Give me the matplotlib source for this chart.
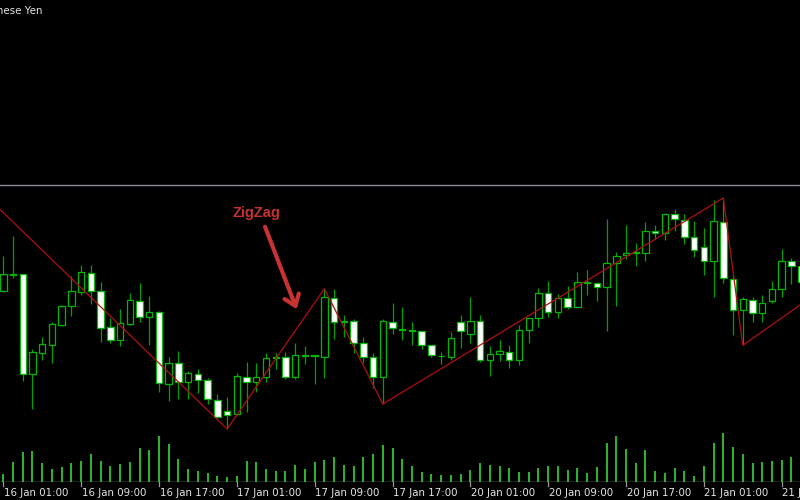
import matplotlib
matplotlib.use("Agg")
import matplotlib.pyplot as plt
from matplotlib.patches import Rectangle
from matplotlib.transforms import blended_transform_factory

# ---- data (USDJPY H1) ----
opens = [104.087, 104.263, 104.263, 103.263, 103.473, 103.553, 103.747, 103.940, 104.077, 104.273,
         104.090, 103.730, 103.597, 103.763, 103.987, 103.833, 103.880, 103.157, 103.367, 103.180,
         103.263, 103.197, 103.000, 102.893, 102.857, 103.233, 103.177, 103.230, 103.427, 103.427,
         103.233, 103.447, 103.447, 103.433, 104.023, 103.787, 103.790, 103.570, 103.427, 103.227,
         103.783, 103.710, 103.700, 103.687, 103.553, 103.445, 103.430, 103.783, 103.663, 103.790,
         103.400, 103.457, 103.483, 103.400, 103.697, 103.817, 104.067, 103.880, 104.023, 103.933,
         104.177, 104.167, 104.127, 104.367, 104.447, 104.477, 104.473, 104.693, 104.673, 104.857,
         104.800, 104.630, 104.530, 104.387, 104.783, 104.213, 103.897, 104.003, 103.867, 103.993,
         104.107, 104.387, 104.337]
highs = [104.440, 104.640, 104.265, 103.513, 103.633, 103.783, 103.950, 104.240, 104.347, 104.347,
         104.180, 103.823, 103.913, 104.067, 104.170, 104.040, 103.890, 103.433, 103.493, 103.293,
         103.310, 103.220, 103.060, 103.030, 103.273, 103.380, 103.373, 103.473, 103.473, 103.483,
         103.567, 103.543, 103.450, 104.113, 104.107, 103.850, 103.807, 103.630, 103.473, 103.810,
         103.970, 103.930, 103.777, 103.690, 103.555, 103.480, 103.680, 103.850, 104.030, 103.853,
         103.543, 103.600, 103.550, 103.747, 103.820, 104.117, 104.187, 104.057, 104.140, 104.280,
         104.300, 104.170, 104.813, 104.483, 104.753, 104.573, 104.780, 104.747, 104.867, 104.907,
         104.860, 104.793, 104.720, 105.000, 105.020, 104.260, 104.027, 104.027, 104.047, 104.190,
         104.507, 104.423, 104.380]
lows = [104.080, 104.220, 103.190, 102.907, 103.400, 103.373, 103.740, 103.843, 104.050, 103.963,
        103.583, 103.573, 103.543, 103.750, 103.780, 103.550, 103.080, 102.990, 103.007, 103.013,
        103.067, 102.960, 102.817, 102.710, 102.850, 102.880, 103.083, 103.183, 103.307, 103.207,
        103.213, 103.360, 103.157, 103.217, 103.607, 103.627, 103.467, 103.367, 103.117, 102.960,
        103.660, 103.600, 103.553, 103.513, 103.427, 103.363, 103.400, 103.520, 103.573, 103.383,
        103.243, 103.387, 103.317, 103.353, 103.573, 103.733, 103.833, 103.820, 103.907, 103.930,
        104.053, 103.993, 103.693, 103.943, 104.413, 104.343, 104.393, 104.610, 104.600, 104.693,
        104.557, 104.433, 104.253, 104.033, 104.173, 103.650, 103.547, 103.780, 103.783, 103.973,
        104.033, 104.157, 104.100]
closes = [104.257, 104.255, 103.263, 103.477, 103.560, 103.757, 103.943, 104.087, 104.277, 104.090,
          103.723, 103.597, 103.767, 103.997, 103.827, 103.883, 103.167, 103.370, 103.183, 103.267,
          103.197, 103.013, 102.833, 102.847, 103.237, 103.177, 103.233, 103.420, 103.422, 103.233,
          103.450, 103.443, 103.437, 104.030, 103.783, 103.783, 103.573, 103.427, 103.227, 103.787,
          103.717, 103.705, 103.693, 103.553, 103.447, 103.440, 103.623, 103.690, 103.790, 103.397,
          103.457, 103.487, 103.400, 103.700, 103.817, 104.067, 103.880, 104.023, 103.933, 104.177,
          104.172, 104.127, 104.367, 104.440, 104.473, 104.472, 104.690, 104.670, 104.857, 104.807,
          104.630, 104.497, 104.393, 104.787, 104.217, 103.897, 104.007, 103.867, 103.973, 104.107,
          104.387, 104.337, 104.177]
volumes = [385, 1015, 1500, 1535, 950, 650, 750, 950, 1035, 1400,
           1035, 815, 900, 1000, 1700, 1615, 2300, 1900, 1165, 650,
           535, 465, 300, 265, 300, 1050, 1000, 650, 565, 565,
           850, 650, 1000, 1085, 1250, 850, 785, 1250, 1400, 1850,
           1700, 1135, 785, 500, 400, 350, 350, 400, 615, 950,
           865, 800, 715, 500, 500, 715, 785, 800, 615, 685,
           465, 750, 1965, 2300, 1635, 935, 1585, 550, 465, 715,
           565, 300, 785, 1965, 2435, 1750, 1400, 935, 1000, 1050,
           1085, 1235, 1100]

zz_bars = [-4, 23, 33, 39, 74, 76, 90]
zz_prices = [105.250, 102.710, 104.113, 102.960, 105.020, 103.547, 104.507]

tick_bars = [0, 8, 16, 24, 32, 40, 48, 56, 64, 72, 80]
tick_labels = ["16 Jan 01:00", "16 Jan 09:00", "16 Jan 17:00", "17 Jan 01:00",
               "17 Jan 09:00", "17 Jan 17:00", "20 Jan 01:00", "20 Jan 09:00",
               "20 Jan 17:00", "21 Jan 01:00", "21 Jan 09:00"]

# ---- figure ----
W, H = 800, 500
fig = plt.figure(figsize=(8, 5), dpi=100, facecolor="black")

ax = fig.add_axes([0, 0, 1, 1])
ax.set_facecolor("black")
ax.axis("off")
ax.set_xlim(-0.339, 81.88)
ax.set_ylim(102.0, 107.0)

axv = fig.add_axes([0, 18 / H, 1, 50 / H])
axv.patch.set_alpha(0)
axv.axis("off")
axv.set_xlim(-0.339, 81.88)
axv.set_ylim(0, 2500)

n = len(opens)
idx = list(range(n))
wick_col = "#00a000"
edge_col = "#00b800"

ax.vlines(idx, lows, highs, colors=wick_col, lw=0.9, zorder=2)
bw = 0.66
for i in idx:
    o, c = opens[i], closes[i]
    bottom = min(o, c)
    h = max(abs(c - o), 0.004)
    face = "white" if c < o else "black"
    ax.add_patch(Rectangle((i - bw / 2, bottom), bw, h, facecolor=face,
                           edgecolor=edge_col, lw=0.9, zorder=3))

ax.plot(zz_bars, zz_prices, color="#b01010", lw=0.9, zorder=5)

# separator line (top) and volume baseline
ax.axhline(107.0 - 185 / 100, color="#8a8c96", lw=1.0, zorder=1)
axv.axhline(0, color="#9a9a9a", lw=1.0)

axv.vlines(idx, 0, volumes, colors="#33d633", lw=1.2)

# time ticks/labels
tr = blended_transform_factory(ax.transData, fig.transFigure)
for b, lab in zip(tick_bars, tick_labels):
    ax.plot([b, b], [1 - 482 / H, 1 - 486 / H], color="#9a9a9a", lw=0.9,
            transform=tr, clip_on=False)
    ax.text(b + 0.06, 1 - 496 / H, lab, transform=tr, color="#e6e6e6",
            fontsize=7.4, family="DejaVu Sans", ha="left", va="baseline")

# title fragment at top-left
fig.text(43 / W, 1 - 14 / H, "Japanese Yen", color="#e6e6e6", fontsize=7.4,
         family="DejaVu Sans", ha="right", va="baseline")

# ZigZag annotation
fig.text(257 / W, 1 - 216.7 / H, "ZigZag", color="#c83232", fontsize=10.5,
         fontweight="bold", family="Liberation Sans", ha="center", va="baseline")
ax.annotate("", xy=(296.7 / W, 1 - 309.3 / H), xytext=(265 / W, 1 - 226.7 / H),
            xycoords="figure fraction", textcoords="figure fraction",
            arrowprops=dict(arrowstyle="->, head_length=0.75, head_width=0.55",
                            color="#c83232", lw=3, mutation_scale=10,
                            shrinkA=0, shrinkB=0))

fig.savefig("out.png", dpi=100, facecolor="black")
